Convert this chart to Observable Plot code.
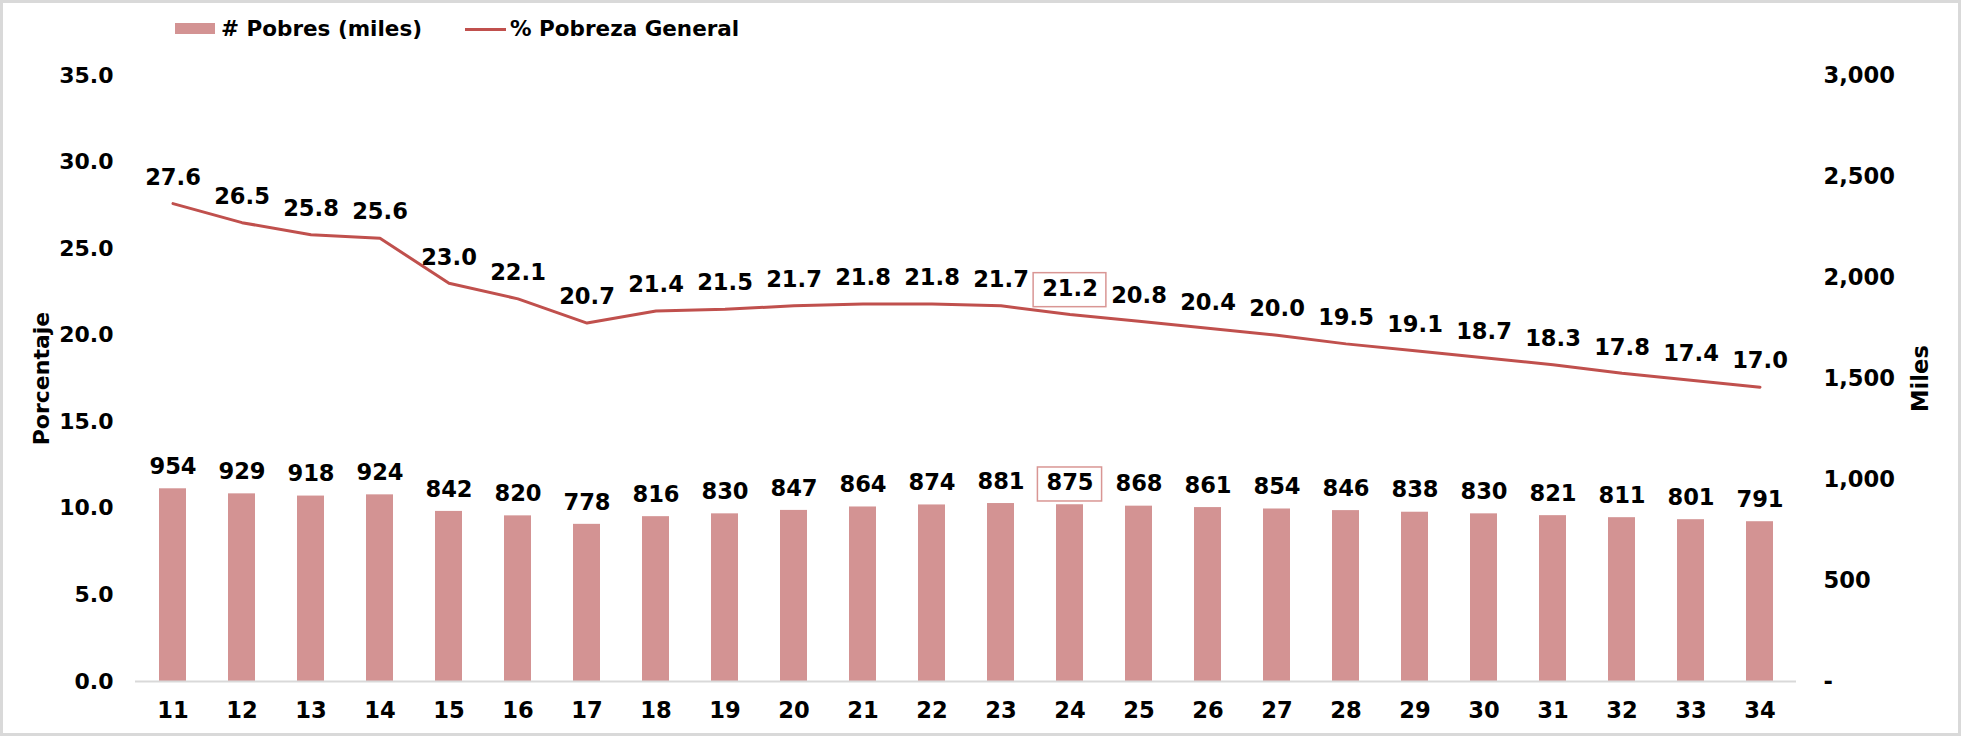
<!DOCTYPE html>
<html><head><meta charset="utf-8">
<script src="https://cdn.jsdelivr.net/npm/d3@7"></script>
<script src="https://cdn.jsdelivr.net/npm/@observablehq/plot@0.6"></script>
<style>
body{margin:0;background:#fff;}
#wrap{position:relative;width:1961px;height:736px;box-sizing:border-box;border:3px solid #d9d9d9;background:#fff;font-family:"DejaVu Sans",Verdana,sans-serif;overflow:hidden;}
#legend{position:relative;height:47px;font-size:21.5px;font-weight:bold;color:#000;}
#legend div{position:absolute;white-space:nowrap;}
</style></head><body>
<div id="wrap">
  <div id="legend">
    <div style="left:172px;top:20px;width:40px;height:11px;background:#d39393"></div>
    <div style="left:218px;top:13px;line-height:26px"># Pobres (miles)</div>
    <div style="left:462px;top:24.5px;width:41px;height:3px;background:#c0504d"></div>
    <div style="left:507px;top:13px;line-height:26px">% Pobreza General</div>
  </div>
  <div id="chart"></div>
</div>
<script>
const categorias = ["11","12","13","14","15","16","17","18","19","20","21","22","23","24","25","26","27","28","29","30","31","32","33","34"];
const pobreza = [27.6,26.5,25.8,25.6,23.0,22.1,20.7,21.4,21.5,21.7,21.8,21.8,21.7,21.2,20.8,20.4,20.0,19.5,19.1,18.7,18.3,17.8,17.4,17.0];
const pobres = [954,929,918,924,842,820,778,816,830,847,864,874,881,875,868,861,854,846,838,830,821,811,801,791];
const ticksPct = [0,5,10,15,20,25,30,35];
const ticksMiles = [0,500,1000,1500,2000,2500,3000];
const destacado = "24";

const maxPct = 35, maxMiles = 3000;
const k = maxPct / maxMiles;
const datos = categorias.map((c, i) => ({cat: c, pct: pobreza[i], miles: pobres[i], milesEsc: pobres[i] * k}));

const plot = Plot.plot({
  width: 1955, height: 683,
  marginTop: 25, marginBottom: 52, marginLeft: 132, marginRight: 162,
  style: {fontFamily: "DejaVu Sans, Verdana, sans-serif", fontSize: "22.6px", fontWeight: "bold", color: "#000", background: "transparent", overflow: "visible"},
  x: {type: "band", domain: categorias, paddingInner: 0.61, paddingOuter: 0.305},
  y: {domain: [0, maxPct]},
  marks: [
    Plot.barY(datos, {x: "cat", y: "milesEsc", fill: "#d39393"}),
    Plot.ruleY([0], {stroke: "#d9d9d9", strokeWidth: 2}),
    Plot.lineY(datos, {x: "cat", y: "pct", stroke: "#c0504d", strokeWidth: 3}),
    Plot.axisX({tickSize: 0, tickPadding: 20, label: null}),
    Plot.axisY({anchor: "left", ticks: ticksPct, tickFormat: d => d.toFixed(1), tickSize: 0, tickPadding: 22,
      label: "Porcentaje", labelAnchor: "center", labelOffset: 102, labelArrow: "none", fontSize: 22}),
    Plot.axisY({anchor: "right", ticks: ticksMiles.map(v => v * k),
      tickFormat: d => { const v = Math.round(d / k); return v === 0 ? "-" : d3.format(",")(v); },
      tickSize: 0, tickPadding: 27, label: "Miles", labelAnchor: "center", labelOffset: 131, labelArrow: "none", fontSize: 22.6}),
    Plot.text(datos, {x: "cat", y: "pct", text: d => d.pct.toFixed(1), dy: -26,
      ariaLabel: d => d.cat === destacado ? "destacado" : "pct"}),
    Plot.text(datos, {x: "cat", y: "milesEsc", text: d => String(d.miles), dy: -22,
      ariaLabel: d => d.cat === destacado ? "destacado" : "miles"})
  ]
});
document.getElementById("chart").append(plot);

plot.querySelectorAll('text[aria-label="destacado"]').forEach(t => {
  const b = t.getBBox();
  const r = document.createElementNS("http://www.w3.org/2000/svg", "rect");
  r.setAttribute("x", b.x - 9);
  r.setAttribute("y", b.y - 2);
  r.setAttribute("width", b.width + 17);
  r.setAttribute("height", b.height + 8);
  r.setAttribute("fill", "none");
  r.setAttribute("stroke", "#d99694");
  r.setAttribute("stroke-width", 1.5);
  const tr = t.getAttribute("transform");
  if (tr) r.setAttribute("transform", tr);
  t.parentNode.insertBefore(r, t);
});
</script>
</body></html>
